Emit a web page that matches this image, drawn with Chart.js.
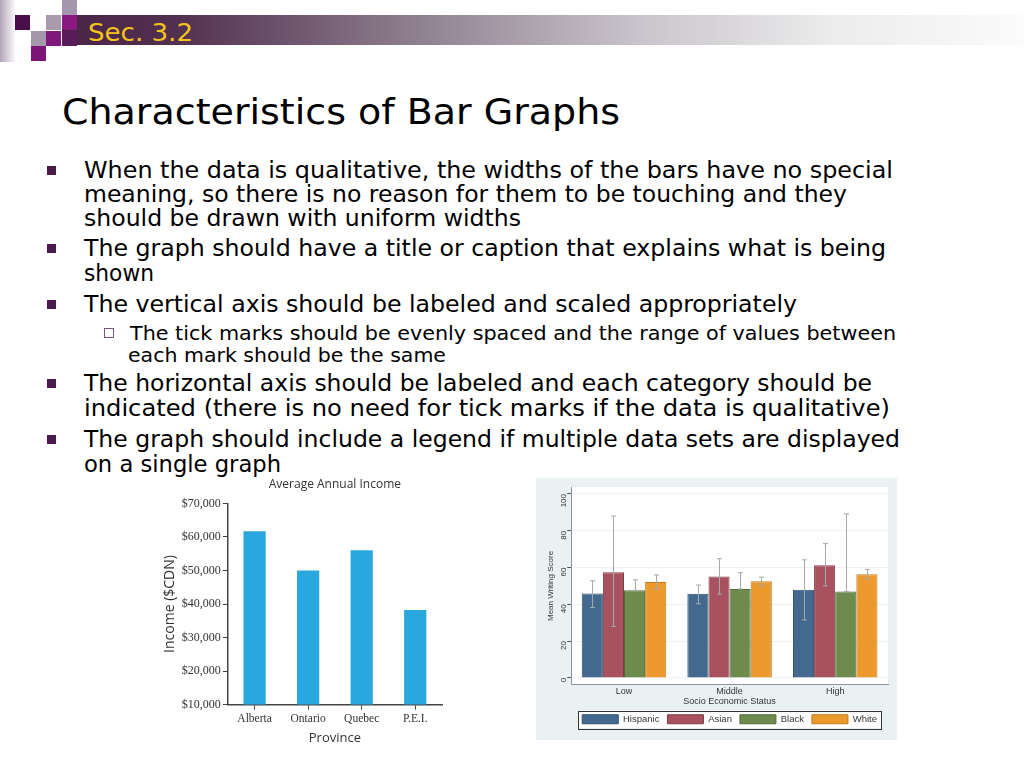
<!DOCTYPE html>
<html>
<head>
<meta charset="utf-8">
<script src="https://cdn.jsdelivr.net/npm/chart.js@4.4.1/dist/chart.umd.min.js"></script>
<style>
  html,body{margin:0;padding:0;background:#fff;}
  body{width:1024px;height:768px;position:relative;overflow:hidden;font-family:"DejaVu Sans",sans-serif;}
  .abs{position:absolute;}
  .sq{position:absolute;width:15px;height:15px;}
  .line{position:absolute;white-space:nowrap;transform-origin:0 0;color:#000;}
  .bul{position:absolute;width:9px;height:9px;background:#4a1a4a;}
  .sub{position:absolute;width:8px;height:8px;border:1.2px solid #7a557a;background:#fff;}
</style>
</head>
<body>
<!-- header decoration -->
<div class="abs" style="left:0;top:0;width:16px;height:62px;background:linear-gradient(to right,#b3a5ba,#ffffff);"></div>
<div class="abs" style="left:62px;top:15px;width:962px;height:30px;background:linear-gradient(to right,#4a2448 0%,#52304f 12%,#8a7a8b 35%,#c9c4cb 60%,#ececec 80%,#fbfbfb 100%);"></div>
<div class="sq" style="left:62px;top:0;background:#a797ae;"></div>
<div class="sq" style="left:15px;top:15px;background:#4b0e4b;"></div>
<div class="sq" style="left:46px;top:15px;background:#a99bad;"></div>
<div class="sq" style="left:62px;top:15px;background:#8a1a80;"></div>
<div class="sq" style="left:31px;top:31px;background:#a698ab;"></div>
<div class="sq" style="left:46px;top:31px;background:#80177a;"></div>
<div class="sq" style="left:62px;top:31px;background:#5a1c5a;"></div>
<div class="sq" style="left:31px;top:46px;background:#7d1478;"></div>
<div class="line" data-w="105" style="left:88px;top:18px;font-size:24px;line-height:30px;color:#f3c419;">Sec. 3.2</div>

<div class="line" data-w="558" style="left:62px;top:90px;font-size:36px;line-height:44px;">Characteristics of Bar Graphs</div>

<div class="bul" style="left:47px;top:166px;"></div>
<div class="bul" style="left:47px;top:244px;"></div>
<div class="bul" style="left:47px;top:300px;"></div>
<div class="bul" style="left:47px;top:379px;"></div>
<div class="bul" style="left:47px;top:435px;"></div>
<div class="sub" style="left:104px;top:328px;"></div>

<div class="line" data-w="809" style="left:84px;top:157px;font-size:23px;line-height:26px;">When the data is qualitative, the widths of the bars have no special</div>
<div class="line" data-w="763" style="left:84px;top:181px;font-size:23px;line-height:26px;">meaning, so there is no reason for them to be touching and they</div>
<div class="line" data-w="437" style="left:84px;top:205px;font-size:23px;line-height:26px;">should be drawn with uniform widths</div>
<div class="line" data-w="802" style="left:84px;top:235px;font-size:23px;line-height:26px;">The graph should have a title or caption that explains what is being</div>
<div class="line" data-w="70" style="left:84px;top:260px;font-size:23px;line-height:26px;">shown</div>
<div class="line" data-w="713" style="left:84px;top:291px;font-size:23px;line-height:26px;">The vertical axis should be labeled and scaled appropriately</div>
<div class="line" data-w="766" style="left:130px;top:322px;font-size:19px;line-height:22px;">The tick marks should be evenly spaced and the range of values between</div>
<div class="line" data-w="318" style="left:128px;top:344px;font-size:19px;line-height:22px;">each mark should be the same</div>
<div class="line" data-w="788" style="left:84px;top:370px;font-size:23px;line-height:26px;">The horizontal axis should be labeled and each category should be</div>
<div class="line" data-w="806" style="left:84px;top:395px;font-size:23px;line-height:26px;">indicated (there is no need for tick marks if the data is qualitative)</div>
<div class="line" data-w="816" style="left:84px;top:426px;font-size:23px;line-height:26px;">The graph should include a legend if multiple data sets are displayed</div>
<div class="line" data-w="197" style="left:84px;top:451px;font-size:23px;line-height:26px;">on a single graph</div>

<!-- left chart -->
<canvas id="c1" class="abs" style="left:160px;top:472px;" width="290" height="276"></canvas>
<!-- right chart -->
<div class="abs" style="left:536px;top:478px;width:361px;height:262px;background:#eaf1f3;"></div>
<canvas id="c2" class="abs" style="left:536px;top:478px;" width="361" height="262"></canvas>

<script>
// ---------- DATA ----------
const provinces = ['Alberta', 'Ontario', 'Quebec', 'P.E.I.'];
const incomeValues = [61700, 50000, 56000, 38200];

const sesCategories = ['Low', 'Middle', 'High'];
const groupNames = ['Hispanic', 'Asian', 'Black', 'White'];
const hispanicMeans = [45.9, 45.8, 47.9];
const asianMeans = [57.4, 55.2, 61.3];
const blackMeans = [47.6, 48.3, 47.0];
const whiteMeans = [52.1, 52.6, 56.4];
const hispanicHigh = [52.8, 50.5, 64.2];
const hispanicLow = [38.3, 40.3, 31.5];
const asianHigh = [88.0, 64.8, 73.0];
const asianLow = [28.0, 45.5, 50.0];
const blackHigh = [53.3, 57.2, 89.2];
const blackLow = [47.6, 48.3, 47.0];
const whiteHigh = [56.0, 54.8, 59.0];
const whiteLow = [48.3, 50.2, 53.8];
const scoreTicks = [0, 20, 40, 60, 80, 100];

// ---------- text fitting ----------
document.querySelectorAll('.line').forEach(el => {
  const w = parseFloat(el.dataset.w);
  const actual = el.getBoundingClientRect().width;
  if (actual > 0) el.style.transform = 'scaleX(' + (w / actual) + ')';
});

// ---------- left chart ----------
new Chart(document.getElementById('c1'), {
  type: 'bar',
  data: {
    labels: provinces,
    datasets: [{ data: incomeValues, backgroundColor: '#29a8e0', borderWidth: 0, barPercentage: 0.83, categoryPercentage: 0.5 }]
  },
  options: {
    responsive: false, animation: false, devicePixelRatio: 1,
    layout: { padding: { left: 0, right: 8, top: 0, bottom: 0 } },
    plugins: {
      legend: { display: false },
      tooltip: { enabled: false },
      title: { display: true, fullSize: false, text: 'Average Annual Income', color: '#333', font: { family: 'Open Sans', size: 12, weight: 'normal' }, padding: { top: 5, bottom: 12 } }
    },
    scales: {
      x: {
        grid: { display: true, drawOnChartArea: false, offset: false, tickLength: 5, color: '#444' },
        border: { color: '#444', width: 1.5 },
        ticks: { color: '#333', font: { family: 'Liberation Serif', size: 11.5 }, padding: 2 },
        title: { display: true, text: 'Province', color: '#333', font: { family: 'Open Sans', size: 13 }, padding: { top: 3, bottom: 2 } }
      },
      y: {
        min: 10000, max: 70000,
        grid: { display: true, drawOnChartArea: false, tickLength: 5, color: '#444' },
        border: { color: '#444', width: 1.5 },
        ticks: { stepSize: 10000, color: '#333', font: { family: 'Liberation Serif', size: 12 }, padding: 2,
          callback: v => '$' + v.toLocaleString('en-US') },
        title: { display: true, text: 'Income ($CDN)', color: '#333', font: { family: 'Open Sans', size: 14 }, padding: { top: 2, bottom: 1 } }
      }
    }
  }
});

// ---------- right chart ----------
const highs = [hispanicHigh, asianHigh, blackHigh, whiteHigh];
const lows = [hispanicLow, asianLow, blackLow, whiteLow];
const fills = ['#436a8e', '#a8525f', '#6e8b4d', '#ec9a2e'];
const edges = ['#2f4f6e', '#7e3c46', '#526a38', '#c47a1c'];

const plotBg = {
  id: 'plotBg',
  beforeDraw(chart) {
    const a = chart.chartArea, ctx = chart.ctx;
    ctx.save(); ctx.fillStyle = '#ffffff';
    ctx.fillRect(a.left, a.top, a.right - a.left, a.bottom - a.top);
    ctx.restore();
  }
};
const errorBars = {
  id: 'errorBars',
  afterDatasetsDraw(chart) {
    const ctx = chart.ctx, ys = chart.scales.y;
    ctx.save(); ctx.strokeStyle = '#a3aaae'; ctx.lineWidth = 1;
    chart.data.datasets.forEach((ds, i) => {
      const meta = chart.getDatasetMeta(i);
      meta.data.forEach((bar, j) => {
        const x = Math.round(bar.x) + 0.5;
        const yh = ys.getPixelForValue(highs[i][j]);
        const yl = ys.getPixelForValue(lows[i][j]);
        ctx.beginPath();
        ctx.moveTo(x, yh); ctx.lineTo(x, yl);
        ctx.moveTo(x - 2.5, yh); ctx.lineTo(x + 2.5, yh);
        ctx.moveTo(x - 2.5, yl); ctx.lineTo(x + 2.5, yl);
        ctx.stroke();
      });
    });
    ctx.restore();
  }
};
const legendBox = {
  id: 'legendBox',
  afterDraw(chart) {
    const lg = chart.legend;
    if (!lg || !lg.legendHitBoxes.length) return;
    let x0 = Infinity, x1 = -Infinity, y0 = Infinity, y1 = -Infinity;
    lg.legendHitBoxes.forEach(b => { x0 = Math.min(x0, b.left); x1 = Math.max(x1, b.left + b.width); y0 = Math.min(y0, b.top); y1 = Math.max(y1, b.top + b.height); });
    const ctx = chart.ctx;
    ctx.save();
    ctx.globalCompositeOperation = 'destination-over';
    ctx.fillStyle = '#fff';
    ctx.fillRect(x0 - 4, y0 - 4, x1 - x0 + 8, y1 - y0 + 8);
    ctx.globalCompositeOperation = 'source-over';
    ctx.strokeStyle = '#333'; ctx.lineWidth = 1;
    ctx.strokeRect(Math.round(x0 - 4) + 0.5, Math.round(y0 - 4) + 0.5, Math.round(x1 - x0 + 8), Math.round(y1 - y0 + 8));
    ctx.restore();
  }
};

new Chart(document.getElementById('c2'), {
  type: 'bar',
  data: {
    labels: sesCategories,
    datasets: [hispanicMeans, asianMeans, blackMeans, whiteMeans].map((d, i) => ({
      label: groupNames[i], data: d, backgroundColor: fills[i], borderColor: edges[i], borderWidth: 1,
      barPercentage: 1.0, categoryPercentage: 0.8
    }))
  },
  options: {
    responsive: false, animation: false, devicePixelRatio: 1,
    layout: { padding: { left: 10, right: 9, top: 9, bottom: 6 } },
    plugins: {
      tooltip: { enabled: false },
      legend: {
        display: true, position: 'bottom', fullSize: false,
        labels: { boxWidth: 36, boxHeight: 9, padding: 8, color: '#333', font: { family: 'Liberation Sans', size: 9.5 } }
      }
    },
    scales: {
      x: {
        grid: { display: true, drawOnChartArea: false, drawTicks: false },
        border: { color: '#8d9699', width: 1 },
        ticks: { color: '#333', font: { family: 'Liberation Sans', size: 9 }, padding: 1 },
        title: { display: true, text: 'Socio Economic Status', color: '#333', font: { family: 'Liberation Sans', size: 9 }, padding: { top: -2, bottom: 0 } }
      },
      y: {
        min: -3.8, max: 103.8,
        afterBuildTicks: s => { s.ticks = scoreTicks.map(v => ({ value: v })); },
        grid: { color: '#edf2f3', tickLength: 4, tickColor: '#555', drawTicks: true },
        border: { color: '#8d9699', width: 1 },
        ticks: { minRotation: 90, maxRotation: 90, color: '#333', font: { family: 'Liberation Sans', size: 8 }, padding: 3 },
        title: { display: true, text: 'Mean Writing Score', color: '#333', font: { family: 'Liberation Sans', size: 8 }, padding: { top: 0, bottom: -4 } }
      }
    }
  },
  plugins: [plotBg, errorBars, legendBox]
});
</script>
</body>
</html>
